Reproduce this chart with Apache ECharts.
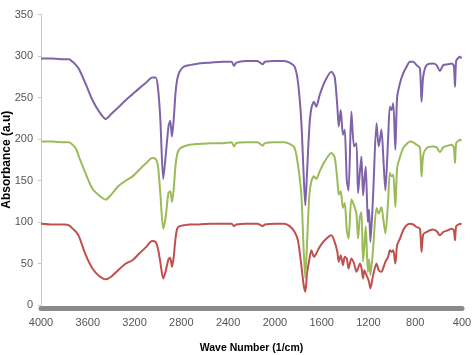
<!DOCTYPE html>
<html>
<head>
<meta charset="utf-8">
<script src="https://cdn.jsdelivr.net/npm/echarts@6/dist/echarts.min.js"></script>
<style>
html,body{margin:0;padding:0;background:#fff;}
#chart{width:474px;height:355px;}
</style>
</head>
<body>
<div id="chart"></div>
<script>
// Wave numbers (1/cm), shared by all three spectra
var waveNumbers = [4000,3900,3800,3760,3730,3700,3674,3617,3560,3503,3446,3400,3340,3274,3217,3160,3100,3050,3020,3000,2980,2955,2935,2910,2895,2880,2865,2850,2835,2815,2780,2730,2650,2550,2450,2370,2350,2330,2250,2150,2105,2085,2000,1920,1874,1831,1803,1774,1755,1740,1725,1705,1688,1666,1646,1617,1574,1517,1489,1466,1454,1437,1418,1403,1385,1370,1346,1323,1303,1289,1274,1260,1246,1235,1223,1205,1195,1183,1160,1131,1112,1089,1070,1055,1032,1017,1003,988,970,955,931,903,874,846,817,788,760,746,732,703,650,617,589,560,520,488,470,460,450,430,417,405];

// Absorbance (a.u), purple (top) spectrum
var purpleSpectrum = [297,297,296,296,293,289,284,266,247,233,224,230,238,247,254,261,268,274,274,262,225,152,178,215,222,203,224,255,272,281,287,289,291,292,293,293,288,292,294,294,290,293,294,294,292,287,269,221,160,120,160,215,237,245,239,253,269,281,275,239,215,235,205,211,150,138,233,191,195,135,159,179,132,150,167,100,115,76,133,219,191,211,170,138,200,239,235,243,187,250,267,279,287,293,293,289,285,245,275,289,291,289,282,289,290,291,288,263,294,298,299,297];

// Absorbance (a.u), green (middle) spectrum
var greenSpectrum = [197,197,196,196,193,188,178,158,140,132,127,133,143,150,155,163,171,177,176,168,135,92,105,135,137,124,140,168,182,188,191,193,194,195,195,196,191,195,196,196,192,195,196,196,194,189,169,133,70,32,75,133,149,155,152,161,173,183,178,151,133,137,117,123,90,80,127,120,110,80,105,112,52,70,95,40,55,36,68,117,110,118,100,86,125,159,155,157,118,165,178,189,194,197,196,193,190,155,180,189,191,190,184,190,192,193,190,171,195,198,199,198];

// Absorbance (a.u), red (bottom) spectrum
var redSpectrum = [98,97,97,96,92,88,82,60,44,35,31,34,42,50,54,62,70,77,76,68,52,32,40,55,57,46,58,80,92,95,96,97,97,98,98,98,95,97,98,98,95,97,98,98,95,88,78,48,25,16,38,55,66,58,62,70,78,84,76,64,52,60,48,58,56,44,56,50,40,44,50,45,32,42,38,32,28,20,36,50,42,40,46,52,58,66,64,66,50,72,80,90,96,98,97,94,92,64,85,88,91,89,84,88,90,92,90,78,95,97,98,97];

var xTicks = [4000,3600,3200,2800,2400,2000,1600,1200,800,400];
var yTicks = [0,50,100,150,200,250,300,350];

function pairs(vals){
  var out = [];
  for (var i = 0; i < waveNumbers.length; i++) out.push([waveNumbers[i], vals[i]]);
  return out;
}
function plain(v){ return String(v); }

var chart = echarts.init(document.getElementById('chart'), null, {renderer:'canvas'});
var labelFont = '"Liberation Sans", Arial, sans-serif';
chart.setOption({
  animation: false,
  backgroundColor: '#ffffff',
  grid: {left: 41, right: 12, top: 14.5, bottom: 50, containLabel: false, outerBoundsMode: 'none'},
  xAxis: {
    type: 'value',
    inverse: true,
    min: xTicks[xTicks.length-1],
    max: xTicks[0],
    interval: 400,
    name: 'Wave Number (1/cm)',
    nameLocation: 'middle',
    nameGap: 35,
    nameMoveOverlap: false,
    nameTextStyle: {fontFamily: labelFont, fontWeight: 'bold', fontSize: 10.5, color: '#000'},
    axisLine: {show: true, onZero: false, lineStyle: {color: '#8a8a8a', width: 5}},
    offset: 3,
    axisTick: {show: false},
    splitLine: {show: false},
    axisLabel: {fontFamily: labelFont, fontSize: 11, color: '#555', margin: 9, formatter: plain}
  },
  yAxis: {
    type: 'value',
    min: yTicks[0],
    max: yTicks[yTicks.length-1],
    interval: 50,
    name: 'Absorbance (a.u)',
    nameLocation: 'middle',
    nameGap: 28,
    nameMoveOverlap: false,
    nameTextStyle: {fontFamily: labelFont, fontWeight: 'bold', fontSize: 12, color: '#000'},
    axisLine: {show: true, lineStyle: {color: '#c8c8c8', width: 1}},
    axisTick: {show: true, length: 3, lineStyle: {color: '#c8c8c8'}},
    splitLine: {show: false},
    axisLabel: {fontFamily: labelFont, fontSize: 11, color: '#555', margin: 8, formatter: plain}
  },
  series: [
    {type: 'line', data: pairs(redSpectrum), showSymbol: false, smooth: 0.25,
     lineStyle: {color: '#C0504D', width: 2}, itemStyle: {color: '#C0504D'}},
    {type: 'line', data: pairs(greenSpectrum), showSymbol: false, smooth: 0.25,
     lineStyle: {color: '#9BBB59', width: 2}, itemStyle: {color: '#9BBB59'}},
    {type: 'line', data: pairs(purpleSpectrum), showSymbol: false, smooth: 0.25,
     lineStyle: {color: '#7F63A8', width: 2}, itemStyle: {color: '#7F63A8'}}
  ]
});
</script>
</body>
</html>
